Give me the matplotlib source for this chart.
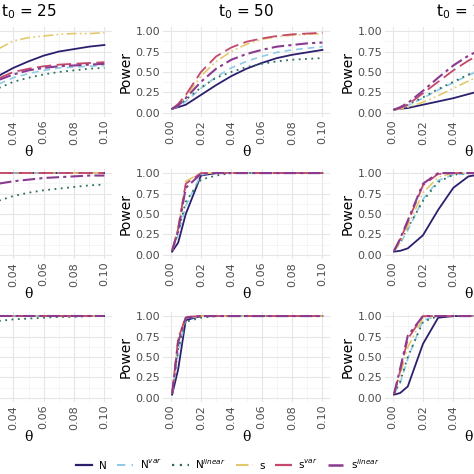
import matplotlib
matplotlib.use("Agg")
import matplotlib.pyplot as plt
from matplotlib.lines import Line2D

theta = [0.001, 0.005, 0.01, 0.02, 0.03, 0.04, 0.05, 0.06, 0.07, 0.08, 0.09, 0.10]
t0_labels = ["25", "50", "100"]
series_names = ["N", "N$^{var}$", "N$^{linear}$", "s", "s$^{var}$", "s$^{linear}$"]

# panels[row][col] -> six series (N, Nvar, Nlinear, s, svar, slinear)
panels = [
    [
        [[0.05,0.10,0.18,0.33,0.45,0.55,0.63,0.70,0.75,0.78,0.81,0.83],
         [0.05,0.08,0.13,0.25,0.35,0.43,0.48,0.52,0.55,0.56,0.57,0.58],
         [0.05,0.08,0.12,0.22,0.30,0.38,0.43,0.47,0.50,0.52,0.54,0.55],
         [0.05,0.15,0.30,0.60,0.78,0.88,0.92,0.94,0.96,0.97,0.97,0.98],
         [0.05,0.09,0.15,0.30,0.42,0.50,0.54,0.57,0.59,0.60,0.61,0.62],
         [0.05,0.09,0.14,0.28,0.40,0.47,0.52,0.55,0.57,0.58,0.59,0.60]],
        [[0.05,0.07,0.10,0.22,0.34,0.45,0.54,0.61,0.67,0.71,0.74,0.77],
         [0.05,0.08,0.14,0.30,0.44,0.55,0.63,0.69,0.74,0.77,0.79,0.81],
         [0.05,0.10,0.16,0.31,0.43,0.50,0.56,0.60,0.63,0.65,0.66,0.67],
         [0.05,0.10,0.20,0.45,0.63,0.75,0.84,0.90,0.93,0.95,0.96,0.97],
         [0.05,0.11,0.22,0.50,0.69,0.80,0.87,0.91,0.94,0.96,0.97,0.98],
         [0.05,0.09,0.18,0.38,0.54,0.65,0.72,0.77,0.81,0.83,0.85,0.86]],
        [[0.04,0.05,0.06,0.10,0.14,0.18,0.23,0.28,0.33,0.38,0.43,0.48],
         [0.04,0.06,0.09,0.18,0.28,0.37,0.46,0.54,0.61,0.67,0.72,0.76],
         [0.04,0.06,0.10,0.19,0.29,0.38,0.47,0.55,0.62,0.68,0.73,0.77],
         [0.04,0.05,0.07,0.13,0.21,0.30,0.39,0.48,0.56,0.63,0.69,0.74],
         [0.04,0.06,0.10,0.24,0.38,0.52,0.64,0.74,0.82,0.87,0.91,0.94],
         [0.04,0.07,0.12,0.27,0.43,0.58,0.70,0.79,0.86,0.90,0.93,0.95]],
    ],
    [
        [[0.05,0.50,0.85,1.00,1.00,1.00,1.00,1.00,1.00,1.00,1.00,1.00],
         [0.05,0.50,0.85,1.00,1.00,1.00,1.00,1.00,1.00,1.00,1.00,1.00],
         [0.05,0.25,0.40,0.58,0.66,0.72,0.76,0.79,0.81,0.83,0.85,0.86],
         [0.05,0.55,0.90,1.00,1.00,1.00,1.00,1.00,1.00,1.00,1.00,1.00],
         [0.05,0.55,0.90,1.00,1.00,1.00,1.00,1.00,1.00,1.00,1.00,1.00],
         [0.05,0.35,0.60,0.80,0.87,0.90,0.92,0.94,0.95,0.96,0.97,0.97]],
        [[0.04,0.15,0.50,0.97,1.00,1.00,1.00,1.00,1.00,1.00,1.00,1.00],
         [0.05,0.25,0.60,0.98,1.00,1.00,1.00,1.00,1.00,1.00,1.00,1.00],
         [0.05,0.28,0.65,0.92,0.97,1.00,1.00,1.00,1.00,1.00,1.00,1.00],
         [0.05,0.35,0.90,1.00,1.00,1.00,1.00,1.00,1.00,1.00,1.00,1.00],
         [0.05,0.32,0.87,1.00,1.00,1.00,1.00,1.00,1.00,1.00,1.00,1.00],
         [0.05,0.30,0.82,0.99,1.00,1.00,1.00,1.00,1.00,1.00,1.00,1.00]],
        [[0.04,0.05,0.08,0.24,0.55,0.82,0.96,0.99,1.00,1.00,1.00,1.00],
         [0.05,0.14,0.30,0.68,0.91,0.98,1.00,1.00,1.00,1.00,1.00,1.00],
         [0.05,0.16,0.33,0.66,0.89,0.98,1.00,1.00,1.00,1.00,1.00,1.00],
         [0.05,0.15,0.35,0.76,0.95,1.00,1.00,1.00,1.00,1.00,1.00,1.00],
         [0.05,0.19,0.40,0.85,0.99,1.00,1.00,1.00,1.00,1.00,1.00,1.00],
         [0.05,0.20,0.42,0.87,1.00,1.00,1.00,1.00,1.00,1.00,1.00,1.00]],
    ],
    [
        [[0.05,0.85,1.00,1.00,1.00,1.00,1.00,1.00,1.00,1.00,1.00,1.00],
         [0.05,0.85,1.00,1.00,1.00,1.00,1.00,1.00,1.00,1.00,1.00,1.00],
         [0.05,0.50,0.75,0.90,0.94,0.96,0.97,0.98,0.99,0.99,1.00,1.00],
         [0.05,0.90,1.00,1.00,1.00,1.00,1.00,1.00,1.00,1.00,1.00,1.00],
         [0.05,0.90,1.00,1.00,1.00,1.00,1.00,1.00,1.00,1.00,1.00,1.00],
         [0.05,0.88,1.00,1.00,1.00,1.00,1.00,1.00,1.00,1.00,1.00,1.00]],
        [[0.04,0.35,0.95,1.00,1.00,1.00,1.00,1.00,1.00,1.00,1.00,1.00],
         [0.05,0.55,0.97,1.00,1.00,1.00,1.00,1.00,1.00,1.00,1.00,1.00],
         [0.05,0.60,0.93,0.98,1.00,1.00,1.00,1.00,1.00,1.00,1.00,1.00],
         [0.05,0.75,0.99,1.00,1.00,1.00,1.00,1.00,1.00,1.00,1.00,1.00],
         [0.05,0.72,0.99,1.00,1.00,1.00,1.00,1.00,1.00,1.00,1.00,1.00],
         [0.05,0.68,0.98,1.00,1.00,1.00,1.00,1.00,1.00,1.00,1.00,1.00]],
        [[0.04,0.06,0.14,0.66,0.98,1.00,1.00,1.00,1.00,1.00,1.00,1.00],
         [0.05,0.18,0.48,0.95,1.00,1.00,1.00,1.00,1.00,1.00,1.00,1.00],
         [0.05,0.20,0.50,0.93,1.00,1.00,1.00,1.00,1.00,1.00,1.00,1.00],
         [0.05,0.28,0.62,0.98,1.00,1.00,1.00,1.00,1.00,1.00,1.00,1.00],
         [0.05,0.33,0.72,1.00,1.00,1.00,1.00,1.00,1.00,1.00,1.00,1.00],
         [0.05,0.36,0.76,1.00,1.00,1.00,1.00,1.00,1.00,1.00,1.00,1.00]],
    ],
]

colors = ["#2b1f6e", "#8fcae6", "#2b6e5a", "#e3c96c", "#c4486b", "#8a3a8f"]
styles = ["-", (0, (4, 3)), (0, (1, 2.5)), (0, (6, 2, 1, 2, 1, 2)), (0, (8, 3)), (0, (6, 2, 1.5, 2))]
widths = [1.3, 1.2, 1.3, 1.2, 1.3, 1.5]

W = H = 474
fig = plt.figure(figsize=(4.74, 4.74), dpi=100)
col_left = [-55, 163, 385]
row_top = [27, 169, 312]
aw, ah = 167, 90
tc = "#4d4d4d"
for r in range(3):
    for c in range(3):
        ax = fig.add_axes([col_left[c] / W, 1 - (row_top[r] + ah) / H, aw / W, ah / H])
        for k in range(6):
            ax.plot(theta, panels[r][c][k], color=colors[k], ls=styles[k], lw=widths[k])
        ax.set_xlim(-0.005, 0.105)
        ax.set_ylim(-0.05, 1.05)
        ax.set_xticks([0, 0.02, 0.04, 0.06, 0.08, 0.10])
        ax.set_xticks([0.01, 0.03, 0.05, 0.07, 0.09], minor=True)
        ax.set_yticks([0, 0.25, 0.5, 0.75, 1.0])
        ax.set_yticks([0.125, 0.375, 0.625, 0.875], minor=True)
        ax.set_xticklabels(["0.00", "0.02", "0.04", "0.06", "0.08", "0.10"], rotation=90)
        ax.set_yticklabels(["0.00", "0.25", "0.50", "0.75", "1.00"])
        ax.grid(True, which="major", color="#e6e6e6", lw=0.8)
        ax.grid(True, which="minor", color="#f2f2f2", lw=0.5)
        ax.set_axisbelow(True)
        for s in ax.spines.values():
            s.set_visible(False)
        ax.tick_params(which="both", length=0, labelsize=8, labelcolor=tc, pad=2)
        ax.set_ylabel("Power", fontsize=10, labelpad=2)
        ax.set_xlabel("θ", fontsize=10, labelpad=0, family="DejaVu Serif")
        if r == 0:
            ax.set_title("t$_0$ = " + t0_labels[c], fontsize=11, pad=8)

handles = [Line2D([], [], color=colors[k], ls=styles[k], lw=widths[k] + 0.3) for k in range(6)]
fig.legend(handles, series_names, loc="center", bbox_to_anchor=(0.48, 1 - 464 / H), ncol=6,
           frameon=False, fontsize=7.5, handlelength=1.6, columnspacing=1.0, handletextpad=0.6)
fig.savefig("out.png", dpi=100, facecolor="white")
